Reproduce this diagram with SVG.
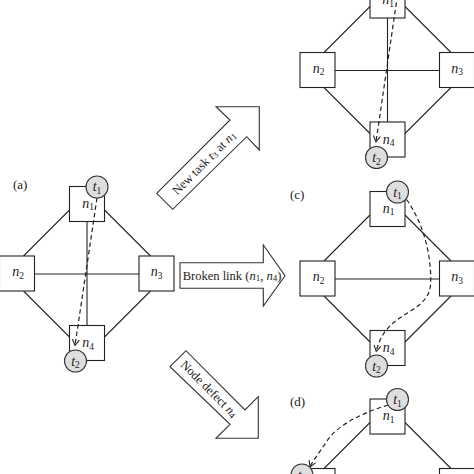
<svg xmlns="http://www.w3.org/2000/svg" width="474" height="474" viewBox="0 0 474 474">
<style>
.box{fill:#fff;stroke:#222;stroke-width:1.1}
.edge{stroke:#222;stroke-width:1.1;fill:none}
.tok{fill:#dedede;stroke:#333;stroke-width:1.1}
.dash{stroke:#222;stroke-width:1.2;fill:none;stroke-dasharray:4.5 3;marker-end:url(#ah)}
.big{fill:#fff;stroke:#333;stroke-width:1.1}
text{font-family:"Liberation Serif","Times New Roman",serif;fill:#222}
.lbl{font-size:14px;text-anchor:middle}
.v{font-style:italic}
.s{font-size:9.5px}
.arr .s{font-size:9px}
.cap{font-size:13px}
.arr{font-size:12.5px;text-anchor:middle;dominant-baseline:central}
</style>
<defs>
<marker id="ah" viewBox="0 0 8 8" refX="7" refY="4" markerWidth="8" markerHeight="8" markerUnits="userSpaceOnUse" orient="auto">
<path d="M1,0.5 L7,4 L1,7.5" fill="none" stroke="#222" stroke-width="1.1"/>
</marker>
</defs>

<!-- transition arrows -->
<g id="arrow-newtask">
<polygon class="big" points="156.7,193.3 230,120 216,106.7 259.3,106.7 259.3,150 246.7,136.7 172.7,209.3"/>
<text class="arr" transform="translate(204,163) rotate(-45)">New task <tspan class="v">t</tspan><tspan class="s" dy="2.5">3</tspan><tspan dy="-2.5"> at </tspan><tspan class="v">n</tspan><tspan class="s" dy="2.5">1</tspan></text>
</g>
<g id="arrow-broken">
<polygon class="big" points="180,262.7 263.3,262.7 263.3,245 285,275.7 263.3,306 263.3,288.3 180,288.3"/>
<text class="arr" x="232" y="275.5">Broken link (<tspan class="v">n</tspan><tspan class="s" dy="2.5">1</tspan><tspan dy="-2.5">, </tspan><tspan class="v">n</tspan><tspan class="s" dy="2.5">4</tspan><tspan dy="-2.5">)</tspan></text>
</g>
<g id="arrow-defect">
<polygon class="big" points="170,366.7 186,350.7 245,410 258.3,396.7 258.3,438.3 216,438.3 230,424.3"/>
<text class="arr" transform="translate(209,389) rotate(45)">Node defect <tspan class="v">n</tspan><tspan class="s" dy="2.5">4</tspan></text>
</g>

<!-- connectors -->
<g id="connectors">
<!-- (a) -->
<line class="edge" x1="69.5" y1="210" x2="23.5" y2="256"/>
<line class="edge" x1="104.5" y1="210" x2="150.5" y2="256"/>
<line class="edge" x1="23.5" y1="291" x2="69.5" y2="337"/>
<line class="edge" x1="150.5" y1="291" x2="104.5" y2="337"/>
<line class="edge" x1="87" y1="221.5" x2="87" y2="325.5"/>
<line class="edge" x1="34.5" y1="274" x2="139" y2="274"/>
<!-- (b) -->
<line class="edge" x1="370" y1="6.5" x2="324" y2="52.5"/>
<line class="edge" x1="405" y1="6.5" x2="451" y2="52.5"/>
<line class="edge" x1="324" y1="87.5" x2="370" y2="133.5"/>
<line class="edge" x1="451" y1="87.5" x2="405" y2="133.5"/>
<line class="edge" x1="387.5" y1="18" x2="387.5" y2="122"/>
<line class="edge" x1="335" y1="70.5" x2="439.5" y2="70.5"/>
<!-- (c) -->
<line class="edge" x1="370" y1="215" x2="324" y2="261"/>
<line class="edge" x1="405" y1="215" x2="451" y2="261"/>
<line class="edge" x1="324" y1="296" x2="370" y2="342"/>
<line class="edge" x1="451" y1="296" x2="405" y2="342"/>
<line class="edge" x1="335" y1="279" x2="439.5" y2="279"/>
<!-- (d) -->
<line class="edge" x1="370" y1="422.5" x2="324" y2="468.5"/>
<line class="edge" x1="405" y1="422.5" x2="451" y2="468.5"/>
</g>

<!-- panel labels -->
<text class="cap" x="13" y="189">(a)</text>
<text class="cap" x="290" y="199">(c)</text>
<text class="cap" x="290" y="406">(d)</text>

<!-- (a) nodes -->
<g id="a-n1"><rect class="box" x="69.5" y="186.5" width="35" height="35"/><text class="lbl" x="88" y="207.5"><tspan class="v">n</tspan><tspan class="s" dy="2.5">1</tspan></text></g>
<g id="a-n2"><rect class="box" x="-0.5" y="256" width="35" height="35"/><text class="lbl" x="18" y="276"><tspan class="v">n</tspan><tspan class="s" dy="2.5">2</tspan></text></g>
<g id="a-n3"><rect class="box" x="139" y="256" width="35" height="35"/><text class="lbl" x="156.5" y="276"><tspan class="v">n</tspan><tspan class="s" dy="2.5">3</tspan></text></g>
<g id="a-n4"><rect class="box" x="69.5" y="325.5" width="35" height="35"/><text class="lbl" x="88" y="347"><tspan class="v">n</tspan><tspan class="s" dy="2.5">4</tspan></text></g>
<path class="dash" d="M97,198 L75,345.5"/>
<g id="a-t1"><circle class="tok" cx="97" cy="187" r="11"/><text class="lbl" x="97" y="191"><tspan class="v">t</tspan><tspan class="s" dy="2.5">1</tspan></text></g>
<g id="a-t2"><circle class="tok" cx="75.5" cy="361" r="11"/><text class="lbl" x="75.5" y="365.5"><tspan class="v">t</tspan><tspan class="s" dy="2.5">2</tspan></text></g>

<!-- (b) nodes -->
<g id="b-n1"><rect class="box" x="370" y="-17" width="35" height="35"/><text class="lbl" x="388" y="4"><tspan class="v">n</tspan><tspan class="s" dy="2.5">1</tspan></text></g>
<g id="b-n2"><rect class="box" x="300" y="52.5" width="35" height="35"/><text class="lbl" x="318.5" y="72.5"><tspan class="v">n</tspan><tspan class="s" dy="2.5">2</tspan></text></g>
<g id="b-n3"><rect class="box" x="439.5" y="52.5" width="35" height="35"/><text class="lbl" x="457" y="72.5"><tspan class="v">n</tspan><tspan class="s" dy="2.5">3</tspan></text></g>
<g id="b-n4"><rect class="box" x="370" y="122" width="35" height="35"/><text class="lbl" x="388.5" y="143.5"><tspan class="v">n</tspan><tspan class="s" dy="2.5">4</tspan></text></g>
<path class="dash" d="M397.5,-5 L376,142"/>
<g id="b-t2"><circle class="tok" cx="376.5" cy="157.5" r="11"/><text class="lbl" x="376.5" y="162"><tspan class="v">t</tspan><tspan class="s" dy="2.5">2</tspan></text></g>

<!-- (c) nodes -->
<g id="c-n1"><rect class="box" x="370" y="191.5" width="35" height="35"/><text class="lbl" x="388.5" y="212.5"><tspan class="v">n</tspan><tspan class="s" dy="2.5">1</tspan></text></g>
<g id="c-n2"><rect class="box" x="300" y="261" width="35" height="35"/><text class="lbl" x="318.5" y="281"><tspan class="v">n</tspan><tspan class="s" dy="2.5">2</tspan></text></g>
<g id="c-n3"><rect class="box" x="439.5" y="261" width="35" height="35"/><text class="lbl" x="457" y="281"><tspan class="v">n</tspan><tspan class="s" dy="2.5">3</tspan></text></g>
<g id="c-n4"><rect class="box" x="370" y="330.5" width="35" height="35"/><text class="lbl" x="388.5" y="352"><tspan class="v">n</tspan><tspan class="s" dy="2.5">4</tspan></text></g>
<path class="dash" d="M406.5,199.5 C425,225 432,260 430.5,285 C429.5,305 405,312 392,324 C383,332 378,343 376.2,351.5"/>
<g id="c-t1"><circle class="tok" cx="397.5" cy="192" r="11"/><text class="lbl" x="397.5" y="196.5"><tspan class="v">t</tspan><tspan class="s" dy="2.5">1</tspan></text></g>
<g id="c-t2"><circle class="tok" cx="376.5" cy="366" r="11"/><text class="lbl" x="376.5" y="370.5"><tspan class="v">t</tspan><tspan class="s" dy="2.5">2</tspan></text></g>

<!-- (d) nodes -->
<g id="d-n1"><rect class="box" x="370" y="399" width="35" height="35"/><text class="lbl" x="388.5" y="420"><tspan class="v">n</tspan><tspan class="s" dy="2.5">1</tspan></text></g>
<g id="d-n2"><rect class="box" x="300" y="468.5" width="35" height="35"/></g>
<g id="d-n3"><rect class="box" x="439.5" y="468.5" width="35" height="35"/></g>
<path class="dash" d="M388,405 C365,412 338,424 327,441 C320,452 313,460 310,467"/>
<g id="d-t1"><circle class="tok" cx="397.5" cy="399.5" r="11"/><text class="lbl" x="397.5" y="404"><tspan class="v">t</tspan><tspan class="s" dy="2.5">1</tspan></text></g>
<g id="d-t2"><circle class="tok" cx="302" cy="475" r="11"/><text class="lbl" x="302" y="479.5"><tspan class="v">t</tspan><tspan class="s" dy="2.5">2</tspan></text></g>
</svg>
